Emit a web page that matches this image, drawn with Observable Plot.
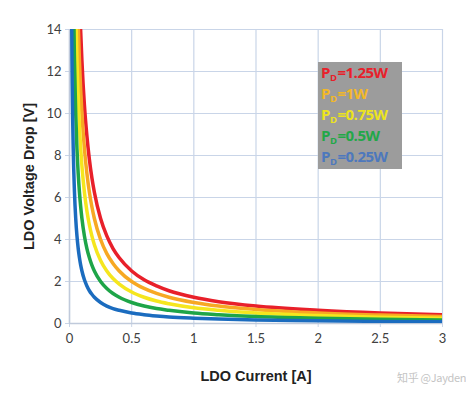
<!DOCTYPE html>
<html><head><meta charset="utf-8">
<script src="https://cdn.jsdelivr.net/npm/d3@7"></script>
<script src="https://cdn.jsdelivr.net/npm/@observablehq/plot@0.6"></script>
<style>
body{margin:0;background:#fff;}
#wrap{position:relative;width:466px;height:394px;overflow:hidden;}
#legend{position:absolute;left:318px;top:62px;width:84px;height:107px;background:#9c9c9c;font:bold 15px "Open Sans","Liberation Sans",sans-serif;box-sizing:border-box;padding:0 0 0 3px;white-space:nowrap;letter-spacing:-0.5px;overflow:hidden;}
#legend .row{height:21px;line-height:21px;position:relative;top:0px;}
#legend .sub{font-size:9.5px;position:relative;top:3px;margin-right:1px;}
#wm{position:absolute;left:397px;top:369px;font:11px "Noto Sans CJK SC",sans-serif;color:#c4c4c4;white-space:nowrap;letter-spacing:-0.3px;}
</style></head>
<body><div id="wrap"></div>
<script>
const current = [0.015,0.02,0.03,0.04,0.05,0.06,0.07,0.08,0.09,0.1,0.12,0.14,0.16,0.18,0.2,0.25,0.3,0.35,0.4,0.5,0.6,0.7,0.8,1,1.2,1.5,2,2.5,3];
const seriesNames = ["PD=1.25W","PD=1W","PD=0.75W","PD=0.5W","PD=0.25W"];
const seriesColors = ["#e8202a","#f7a823","#f5e61e","#1ea548","#1b6cbf"];
const textColors = ["#e8202a","#f2b828","#ece41e","#22a848","#4d78bd"];
const legendLabels = ["1.25W","1W","0.75W","0.5W","0.25W"];
const vRed    = [83.3,62.5,41.7,31.3,25,20.8,17.9,15.6,13.9,12.5,10.4,8.93,7.81,6.94,6.25,5,4.17,3.57,3.13,2.5,2.08,1.79,1.56,1.25,1.04,0.83,0.63,0.5,0.42];
const vOrange = [66.7,50,33.3,25,20,16.7,14.3,12.5,11.1,10,8.33,7.14,6.25,5.56,5,4,3.33,2.86,2.5,2,1.67,1.43,1.25,1,0.83,0.67,0.5,0.4,0.33];
const vYellow = [50,37.5,25,18.75,15,12.5,10.7,9.38,8.33,7.5,6.25,5.36,4.69,4.17,3.75,3,2.5,2.14,1.88,1.5,1.25,1.07,0.94,0.75,0.63,0.5,0.38,0.3,0.25];
const vGreen  = [33.3,25,16.7,12.5,10,8.33,7.14,6.25,5.56,5,4.17,3.57,3.13,2.78,2.5,2,1.67,1.43,1.25,1,0.83,0.71,0.63,0.5,0.42,0.33,0.25,0.2,0.17];
const vBlue   = [16.7,12.5,8.33,6.25,5,4.17,3.57,3.13,2.78,2.5,2.08,1.79,1.56,1.39,1.25,1,0.83,0.71,0.63,0.5,0.42,0.36,0.31,0.25,0.21,0.17,0.13,0.1,0.08];
const xTicks = [0,0.5,1,1.5,2,2.5,3];
const yTicks = [0,2,4,6,8,10,12,14];

const allV = [vRed,vOrange,vYellow,vGreen,vBlue];
const data = [];
allV.forEach((vals,si)=>vals.forEach((v,i)=>data.push({s:seriesNames[si],x:current[i],y:v})));

const grid = "#c9d5e8";
const chart = Plot.plot({
  width:466, height:394,
  marginLeft:69, marginRight:24, marginTop:29, marginBottom:71,
  style:{fontFamily:"Lato, 'Open Sans', sans-serif", fontSize:"13px", color:"#404040", background:"#fff"},
  x:{domain:[0,3]},
  y:{domain:[0,14]},
  color:{domain:seriesNames, range:seriesColors},
  marks:[
    Plot.gridX(xTicks,{stroke:grid, strokeOpacity:1, strokeWidth:1.2}),
    Plot.gridY(yTicks,{stroke:grid, strokeOpacity:1, strokeWidth:1.2}),
    Plot.axisX({ticks:xTicks, tickSize:4, stroke:grid, tickPadding:6, tickFormat:d=>String(d), label:"LDO Current [A]", labelAnchor:"center", labelArrow:"none", labelOffset:57}),
    Plot.axisY({ticks:yTicks, tickSize:4, stroke:grid, tickPadding:4, label:"LDO Voltage Drop [V]", labelAnchor:"center", labelArrow:"none", labelOffset:46}),
    Plot.ruleX([0],{stroke:"#c0cadb", strokeWidth:1.5}),
    Plot.ruleY([0],{stroke:"#c0cadb", strokeWidth:1.5}),
    Plot.line(data,{x:"x", y:"y", z:"s", stroke:"s", strokeWidth:3.5, curve:"monotone-x", clip:true})
  ]
});
chart.querySelectorAll('g[aria-label="x-axis label"], g[aria-label="y-axis label"]').forEach(g=>{
  g.setAttribute("font-family","'Liberation Sans', Arial, sans-serif");
  g.setAttribute("font-weight","bold");
  g.setAttribute("font-size","14.5");
  g.setAttribute("fill","#222");
  g.querySelectorAll("text").forEach(t=>{t.style.fontFamily="'Liberation Sans', Arial, sans-serif";t.style.fontWeight="bold";t.style.fontSize="14.5px";});
});
const wrap = document.getElementById("wrap");
wrap.appendChild(chart);
const lg = document.createElement("div");
lg.id = "legend";
lg.innerHTML = legendLabels.map((l,i)=>`<div class="row" style="color:${textColors[i]}">P<span class="sub">D</span>=${l}</div>`).join("");
wrap.appendChild(lg);
const wm = document.createElement("div");
wm.id = "wm"; wm.textContent = "知乎 @Jayden";
wrap.appendChild(wm);
</script></body></html>
